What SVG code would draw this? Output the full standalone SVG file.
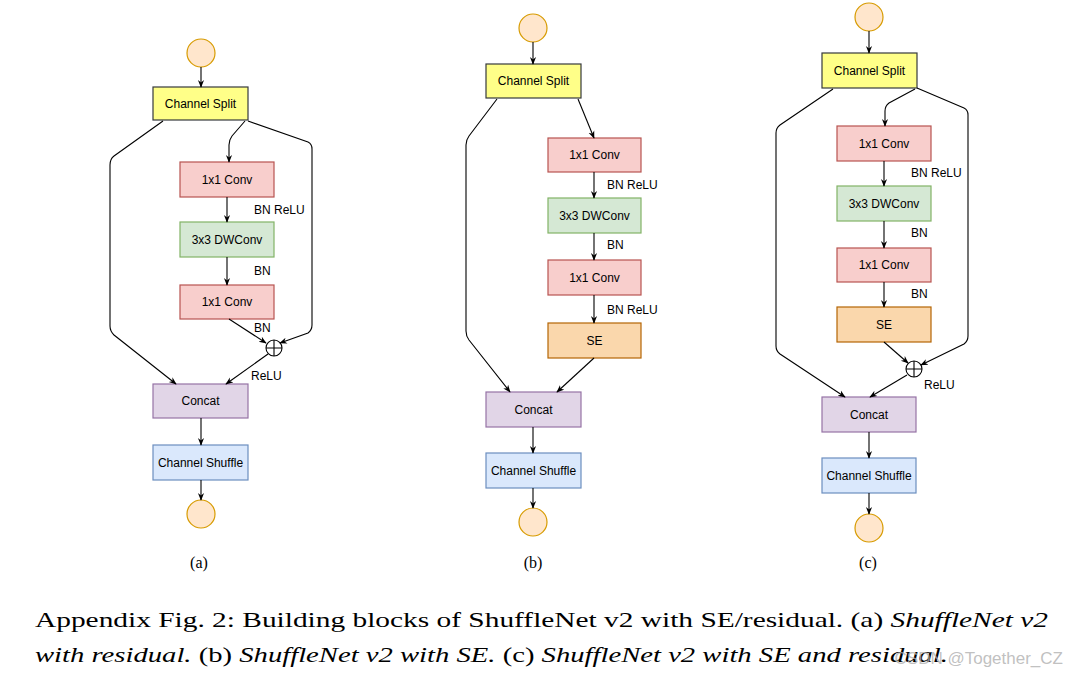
<svg xmlns="http://www.w3.org/2000/svg" width="1069" height="674" viewBox="0 0 1069 674">
<defs>
<style>
.t{font-family:"Liberation Sans",Arial,sans-serif;font-size:12px;fill:#000;text-anchor:middle;dominant-baseline:central}
.l{font-family:"Liberation Sans",Arial,sans-serif;font-size:12px;fill:#000}
.s{font-family:"Liberation Serif","Times New Roman",serif;fill:#000}
.io{fill:#ffe6cc;stroke:#d79b00;stroke-width:1.2}
.split{fill:#ffff88;stroke:#36393d;stroke-width:1.2}
.conv{fill:#f8cecc;stroke:#b85450;stroke-width:1.2}
.dw{fill:#d5e8d4;stroke:#82b366;stroke-width:1.2}
.se{fill:#fad7ac;stroke:#b46504;stroke-width:1.2}
.cat{fill:#e1d5e7;stroke:#9673a6;stroke-width:1.2}
.sh{fill:#dae8fc;stroke:#6c8ebf;stroke-width:1.2}
.c path{fill:none;stroke:#000;stroke-width:1.1;marker-end:url(#a)}
.plus{fill:#fff;stroke:#000;stroke-width:1.1}
</style>
<marker id="a" viewBox="0 0 10 10" refX="9" refY="5" markerWidth="7" markerHeight="7" orient="auto"><path d="M0,1 L10,5 L0,9 L3,5 z" fill="#000"/></marker>
</defs>
<rect width="1069" height="674" fill="#fff"/>

<!-- panel a -->
<g id="a-in"><circle class="io" cx="201" cy="53" r="14"/></g>
<g id="a-split"><rect class="split" x="153" y="87" width="95" height="33"/><text class="t" x="200.5" y="103.5">Channel Split</text></g>
<g id="a-conv1"><rect class="conv" x="180" y="162" width="94" height="35"/><text class="t" x="227" y="179.5">1x1 Conv</text></g>
<g id="a-dw"><rect class="dw" x="180" y="222" width="94" height="35"/><text class="t" x="227" y="239.5">3x3 DWConv</text></g>
<g id="a-conv2"><rect class="conv" x="180" y="285" width="94" height="34"/><text class="t" x="227" y="302">1x1 Conv</text></g>
<g id="a-plus"><circle class="plus" cx="274" cy="348" r="8"/><path d="M266,348h16M274,340v16" stroke="#000" stroke-width="1.1"/></g>
<g id="a-concat"><rect class="cat" x="153" y="384" width="95" height="34"/><text class="t" x="200.5" y="401">Concat</text></g>
<g id="a-shuffle"><rect class="sh" x="153" y="445" width="95" height="35"/><text class="t" x="200.5" y="462.5">Channel Shuffle</text></g>
<g id="a-out"><circle class="io" cx="201" cy="514" r="14"/></g>
<g id="a-labels"><text class="l" x="254" y="214">BN ReLU</text><text class="l" x="254" y="275">BN</text><text class="l" x="254" y="332">BN</text><text class="l" x="251" y="380">ReLU</text></g>
<g id="a-connectors" class="c">
<path d="M201,67V87"/>
<path d="M163,121L114,156Q110,159 110,165V326Q110,331 114,335L176,384"/>
<path d="M245,121L232,136Q229,140 229,145V162"/>
<path d="M248,121L308,142Q312,144 312,149V325Q312,330 308,333L280,343"/>
<path d="M227,197V222"/>
<path d="M227,257V285"/>
<path d="M229,319L266,343"/>
<path d="M268,354L226,384"/>
<path d="M201,418V445"/>
<path d="M201,480V500"/>
</g>

<!-- panel b -->
<g id="b-in"><circle class="io" cx="533" cy="28" r="14"/></g>
<g id="b-split"><rect class="split" x="486" y="64" width="95" height="34"/><text class="t" x="533.5" y="81">Channel Split</text></g>
<g id="b-conv1"><rect class="conv" x="548" y="138" width="93" height="34"/><text class="t" x="594.5" y="155">1x1 Conv</text></g>
<g id="b-dw"><rect class="dw" x="548" y="198" width="93" height="35"/><text class="t" x="594.5" y="215.5">3x3 DWConv</text></g>
<g id="b-conv2"><rect class="conv" x="548" y="260" width="93" height="35"/><text class="t" x="594.5" y="277.5">1x1 Conv</text></g>
<g id="b-se"><rect class="se" x="548" y="323" width="93" height="35"/><text class="t" x="594.5" y="340.5">SE</text></g>
<g id="b-concat"><rect class="cat" x="486" y="392" width="95" height="35"/><text class="t" x="533.5" y="409.5">Concat</text></g>
<g id="b-shuffle"><rect class="sh" x="486" y="453" width="95" height="35"/><text class="t" x="533.5" y="470.5">Channel Shuffle</text></g>
<g id="b-out"><circle class="io" cx="533" cy="522" r="14"/></g>
<g id="b-labels"><text class="l" x="607" y="189">BN ReLU</text><text class="l" x="607" y="249">BN</text><text class="l" x="607" y="314">BN ReLU</text></g>
<g id="b-connectors" class="c">
<path d="M533,42V64"/>
<path d="M497,99L469,136Q466,140 466,145V331Q466,336 469,340L510,392"/>
<path d="M578,99L594,138"/>
<path d="M594,172V198"/>
<path d="M594,233V260"/>
<path d="M594,295V323"/>
<path d="M594,358L557,392"/>
<path d="M533,427V453"/>
<path d="M533,488V508"/>
</g>

<!-- panel c -->
<g id="c-in"><circle class="io" cx="869" cy="17" r="14"/></g>
<g id="c-split"><rect class="split" x="822" y="53" width="95" height="35"/><text class="t" x="869.5" y="70.5">Channel Split</text></g>
<g id="c-conv1"><rect class="conv" x="837" y="126" width="94" height="35"/><text class="t" x="884" y="143.5">1x1 Conv</text></g>
<g id="c-dw"><rect class="dw" x="837" y="186" width="94" height="35"/><text class="t" x="884" y="203.5">3x3 DWConv</text></g>
<g id="c-conv2"><rect class="conv" x="837" y="248" width="94" height="34"/><text class="t" x="884" y="265">1x1 Conv</text></g>
<g id="c-se"><rect class="se" x="837" y="307" width="94" height="35"/><text class="t" x="884" y="324.5">SE</text></g>
<g id="c-plus"><circle class="plus" cx="914" cy="369" r="8"/><path d="M906,369h16M914,361v16" stroke="#000" stroke-width="1.1"/></g>
<g id="c-concat"><rect class="cat" x="822" y="397" width="94" height="35"/><text class="t" x="869" y="414.5">Concat</text></g>
<g id="c-shuffle"><rect class="sh" x="822" y="458" width="94" height="35"/><text class="t" x="869" y="475.5">Channel Shuffle</text></g>
<g id="c-out"><circle class="io" cx="869" cy="528" r="14"/></g>
<g id="c-labels"><text class="l" x="911" y="177">BN ReLU</text><text class="l" x="911" y="237">BN</text><text class="l" x="911" y="298">BN</text><text class="l" x="924" y="389">ReLU</text></g>
<g id="c-connectors" class="c">
<path d="M869,31V53"/>
<path d="M833,89L780,125Q776,128 776,133V346Q776,351 780,354L845,397"/>
<path d="M915,89L889,103Q885,106 885,111V126"/>
<path d="M917,88L964,108Q968,110 968,115V336Q968,341 964,344L921,365"/>
<path d="M884,161V186"/>
<path d="M884,221V248"/>
<path d="M884,282V307"/>
<path d="M884,342L908,363"/>
<path d="M907,375L870,397"/>
<path d="M869,432V458"/>
<path d="M869,493V514"/>
</g>

<g id="sublabels">
<text class="s" x="199" y="568" font-size="16" text-anchor="middle">(a)</text>
<text class="s" x="533" y="568" font-size="16" text-anchor="middle">(b)</text>
<text class="s" x="868" y="568" font-size="16" text-anchor="middle">(c)</text>
</g>
<g id="caption">
<text class="s" x="35" y="627" font-size="22" textLength="1013" lengthAdjust="spacingAndGlyphs">Appendix Fig. 2: Building blocks of ShuffleNet v2 with SE/residual. (a) <tspan font-style="italic">ShuffleNet v2</tspan></text>
<text class="s" x="35" y="662" font-size="22" textLength="913" lengthAdjust="spacingAndGlyphs"><tspan font-style="italic">with residual.</tspan> (b) <tspan font-style="italic">ShuffleNet v2 with SE.</tspan> (c) <tspan font-style="italic">ShuffleNet v2 with SE and residual.</tspan></text>
<text x="1063" y="664" font-family="Liberation Sans,Arial,sans-serif" font-size="17" fill="#b0b0b0" fill-opacity="0.8" text-anchor="end">CSDN @Together_CZ</text>
</g>
</svg>
